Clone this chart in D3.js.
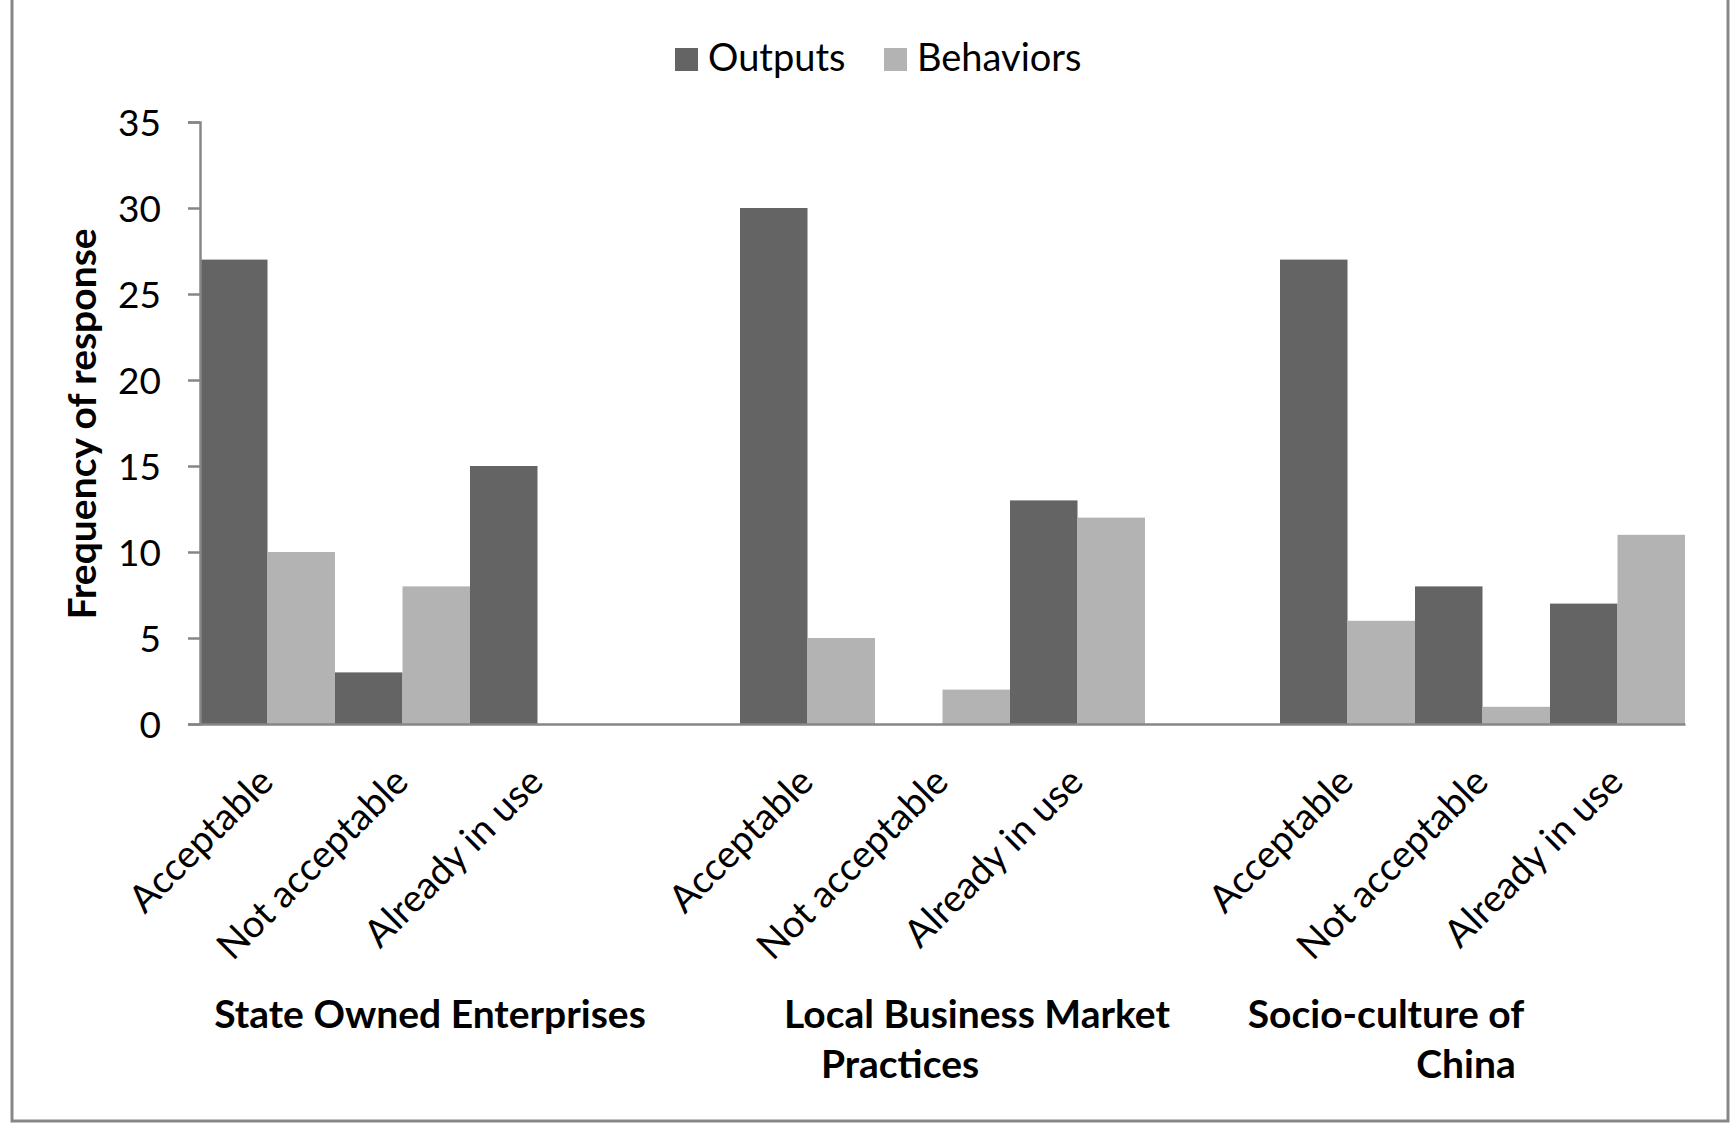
<!DOCTYPE html>
<html>
<head>
    <title>Frequency of response</title>
    <script src="https://cdnjs.cloudflare.com/ajax/libs/d3/7.8.5/d3.min.js"></script>
    <style>
        body { margin: 0; background: white; }
        text { font-family: Lato, "Open Sans", sans-serif; fill: #000; }
    </style>
</head>
<body>
    <div id="chart"></div>
    <script>
        // data
        const groups = ['State Owned Enterprises', 'Local Business Market Practices', 'Socio-culture of China'];
        const groupLines = [['State Owned Enterprises'], ['Local Business Market', 'Practices'], ['Socio-culture of', 'China']];
        const responses = ['Acceptable', 'Not acceptable', 'Already in use'];
        const seriesNames = ['Outputs', 'Behaviors'];
        const outputs = [[27, 3, 15], [30, 0, 13], [27, 8, 7]];
        const behaviors = [[10, 8, 0], [5, 2, 12], [6, 1, 11]];
        const yTicks = [0, 5, 10, 15, 20, 25, 30, 35];

        const COLORS = { Outputs: '#646464', Behaviors: '#b3b3b3' };
        const AXIS = '#868686';

        // group label line centres, relative to the group's first slot
        const groupLineDx = [[230], [237, 160], [106, 186]];

        const W = 1734, H = 1135;
        const plot = { left: 200, right: 1685, top: 122, bottom: 724 };

        // 11 slots: 3 responses per group with an empty slot between groups
        const slots = [];
        groups.forEach((g, gi) => {
            if (gi > 0) slots.push('gap' + gi);
            responses.forEach((r, ri) => slots.push(gi + '|' + ri));
        });

        const rows = [];
        groups.forEach((g, gi) => {
            responses.forEach((r, ri) => {
                rows.push({ slot: gi + '|' + ri, response: r, series: 'Outputs', value: outputs[gi][ri] });
                rows.push({ slot: gi + '|' + ri, response: r, series: 'Behaviors', value: behaviors[gi][ri] });
            });
        });

        const svg = d3.select('#chart').append('svg')
            .attr('width', W)
            .attr('height', H);

        const x = d3.scaleBand().domain(slots).range([plot.left, plot.right]).padding(0);
        const xs = d3.scaleBand().domain(seriesNames).range([0, x.bandwidth()]).padding(0);
        const y = d3.scaleLinear().domain([0, 35]).range([plot.bottom, plot.top]);

        // outer frame (top edge is cropped in the original)
        svg.append('rect')
            .attr('x', 12).attr('y', -10)
            .attr('width', 1716).attr('height', 1131)
            .attr('fill', 'none')
            .attr('stroke', '#878787')
            .attr('stroke-width', 3);

        // bars
        svg.append('g').selectAll('rect')
            .data(rows.filter(d => d.value > 0))
            .join('rect')
            .attr('x', d => x(d.slot) + xs(d.series))
            .attr('y', d => y(d.value))
            .attr('width', xs.bandwidth())
            .attr('height', d => y(0) - y(d.value))
            .attr('fill', d => COLORS[d.series]);

        // y axis
        const yAxis = svg.append('g')
            .attr('transform', `translate(${plot.left},0)`)
            .call(d3.axisLeft(y).tickValues(yTicks).tickSize(12).tickPadding(27));
        yAxis.select('.domain').attr('stroke', AXIS).attr('stroke-width', 2.5);
        yAxis.selectAll('.tick line').attr('stroke', AXIS).attr('stroke-width', 2.5);
        yAxis.selectAll('.tick text')
            .attr('font-size', 37)
            .attr('font-family', 'Lato, sans-serif')
            .attr('fill', '#000')
            .attr('dy', '0.36em');

        // x axis line
        const xAxis = svg.append('g')
            .attr('transform', `translate(0,${plot.bottom})`)
            .call(d3.axisBottom(x).tickSize(0).tickFormat(''));
        xAxis.select('.domain').attr('stroke', AXIS).attr('stroke-width', 2.5);

        // rotated category labels
        svg.append('g').selectAll('text')
            .data(rows.filter(d => d.series === 'Outputs'))
            .join('text')
            .attr('transform', d => `translate(${x(d.slot) + x.bandwidth() / 2 + 8},${plot.bottom + 60}) rotate(-45)`)
            .attr('text-anchor', 'end')
            .attr('font-size', 38)
            .text(d => d.response);

        // group labels
        groupLines.forEach((lines, gi) => {
            const x0 = x(gi + '|0');
            lines.forEach((line, li) => {
                svg.append('text')
                    .attr('x', x0 + groupLineDx[gi][li])
                    .attr('y', 1028 + li * 50)
                    .attr('text-anchor', 'middle')
                    .attr('font-size', 39)
                    .attr('font-weight', 'bold')
                    .text(line);
            });
        });

        // y axis title
        svg.append('text')
            .attr('transform', `translate(96,424) rotate(-90)`)
            .attr('text-anchor', 'middle')
            .attr('font-size', 39)
            .attr('font-weight', 'bold')
            .text('Frequency of response');

        // legend
        const legend = svg.append('g').attr('transform', 'translate(675,48)');
        const legendX = [0, 209];
        seriesNames.forEach((s, i) => {
            const item = legend.append('g').attr('transform', `translate(${legendX[i]},0)`);
            item.append('rect')
                .attr('width', 23).attr('height', 23)
                .attr('fill', COLORS[s]);
            item.append('text')
                .attr('x', 33).attr('y', 23)
                .attr('font-size', 38)
                .text(s);
        });
    </script>
</body>
</html>
